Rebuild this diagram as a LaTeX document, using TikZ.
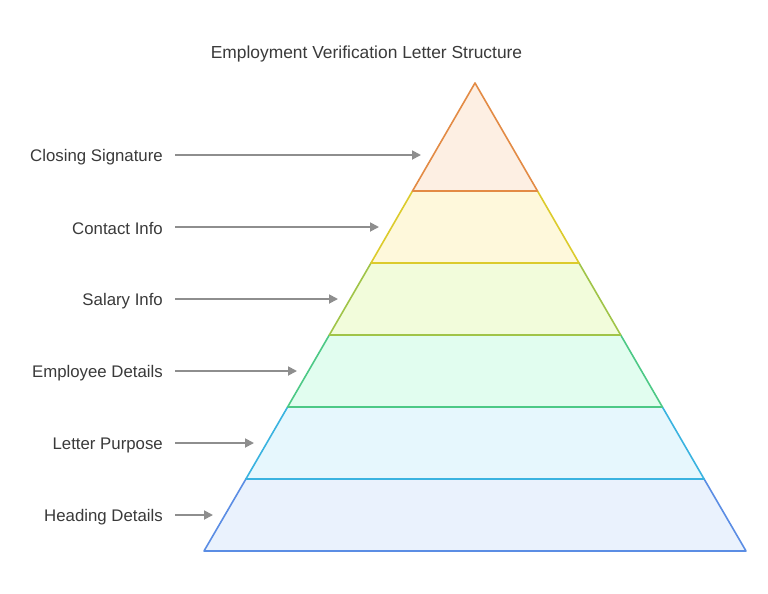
\documentclass[tikz,border=0pt]{standalone}
\usepackage{fontspec}
\setmainfont{Liberation Sans}
\usetikzlibrary{arrows.meta}
\definecolor{txt}{HTML}{3A3A3A}
\definecolor{arr}{HTML}{8E8E8E}
\definecolor{s1}{HTML}{E38B45}\definecolor{f1}{HTML}{FDEFE3}
\definecolor{s2}{HTML}{DCCB2C}\definecolor{f2}{HTML}{FEF8DB}
\definecolor{s3}{HTML}{A0C448}\definecolor{f3}{HTML}{F2FCDB}
\definecolor{s4}{HTML}{4DC986}\definecolor{f4}{HTML}{E1FDEF}
\definecolor{s5}{HTML}{3AB3E0}\definecolor{f5}{HTML}{E6F7FD}
\definecolor{s6}{HTML}{5B8DE4}\definecolor{f6}{HTML}{EAF2FD}
\tikzset{
  lbl/.style={anchor=east, text=txt, font=\fontsize{16.8}{19}\selectfont, inner sep=0pt},
  pointer/.style={draw=arr, line width=1.8pt, -{Triangle[length=9pt,width=9pt]}},
  layer/.style={line width=1.6pt, line join=round},
}
\begin{document}
\begin{tikzpicture}[x=1pt,y=-1pt]
\useasboundingbox (0,0) rectangle (768,594);
\fill[white] (0,0) rectangle (768,594);
\node[text=txt, font=\fontsize{17.4}{20}\selectfont] (title) at (366.5,54) {Employment Verification Letter Structure};
% layers bottom to top
\draw[layer, draw=s6, fill=f6] (204,551) -- (746,551) -- (704.1,479) -- (245.9,479) -- cycle;
\draw[layer, draw=s5, fill=f5] (245.9,479) -- (704.1,479) -- (662.4,407) -- (287.6,407) -- cycle;
\draw[layer, draw=s4, fill=f4] (287.6,407) -- (662.4,407) -- (620.7,335) -- (329.3,335) -- cycle;
\draw[layer, draw=s3, fill=f3] (329.3,335) -- (620.7,335) -- (579.0,263) -- (371.0,263) -- cycle;
\draw[layer, draw=s2, fill=f2] (371.0,263) -- (579.0,263) -- (537.5,191) -- (412.5,191) -- cycle;
\draw[layer, draw=s1, fill=f1] (412.5,191) -- (537.5,191) -- (475,83) -- cycle;
% arrow targets
\coordinate (t1) at (421,155);
\coordinate (t2) at (379,227);
\coordinate (t3) at (338,299);
\coordinate (t4) at (297,371);
\coordinate (t5) at (254,443);
\coordinate (t6) at (213,515);
% labels
\node[lbl] (l1) at (163,157) {Closing Signature};
\node[lbl] (l2) at (163,229) {Contact Info};
\node[lbl] (l3) at (163,301) {Salary Info};
\node[lbl] (l4) at (163,373) {Employee Details};
\node[lbl] (l5) at (163,445) {Letter Purpose};
\node[lbl] (l6) at (163,517) {Heading Details};
\foreach \i in {1,...,6}{
  \draw[pointer] (175,0 |- t\i) -- (t\i);
}
\end{tikzpicture}
\end{document}
